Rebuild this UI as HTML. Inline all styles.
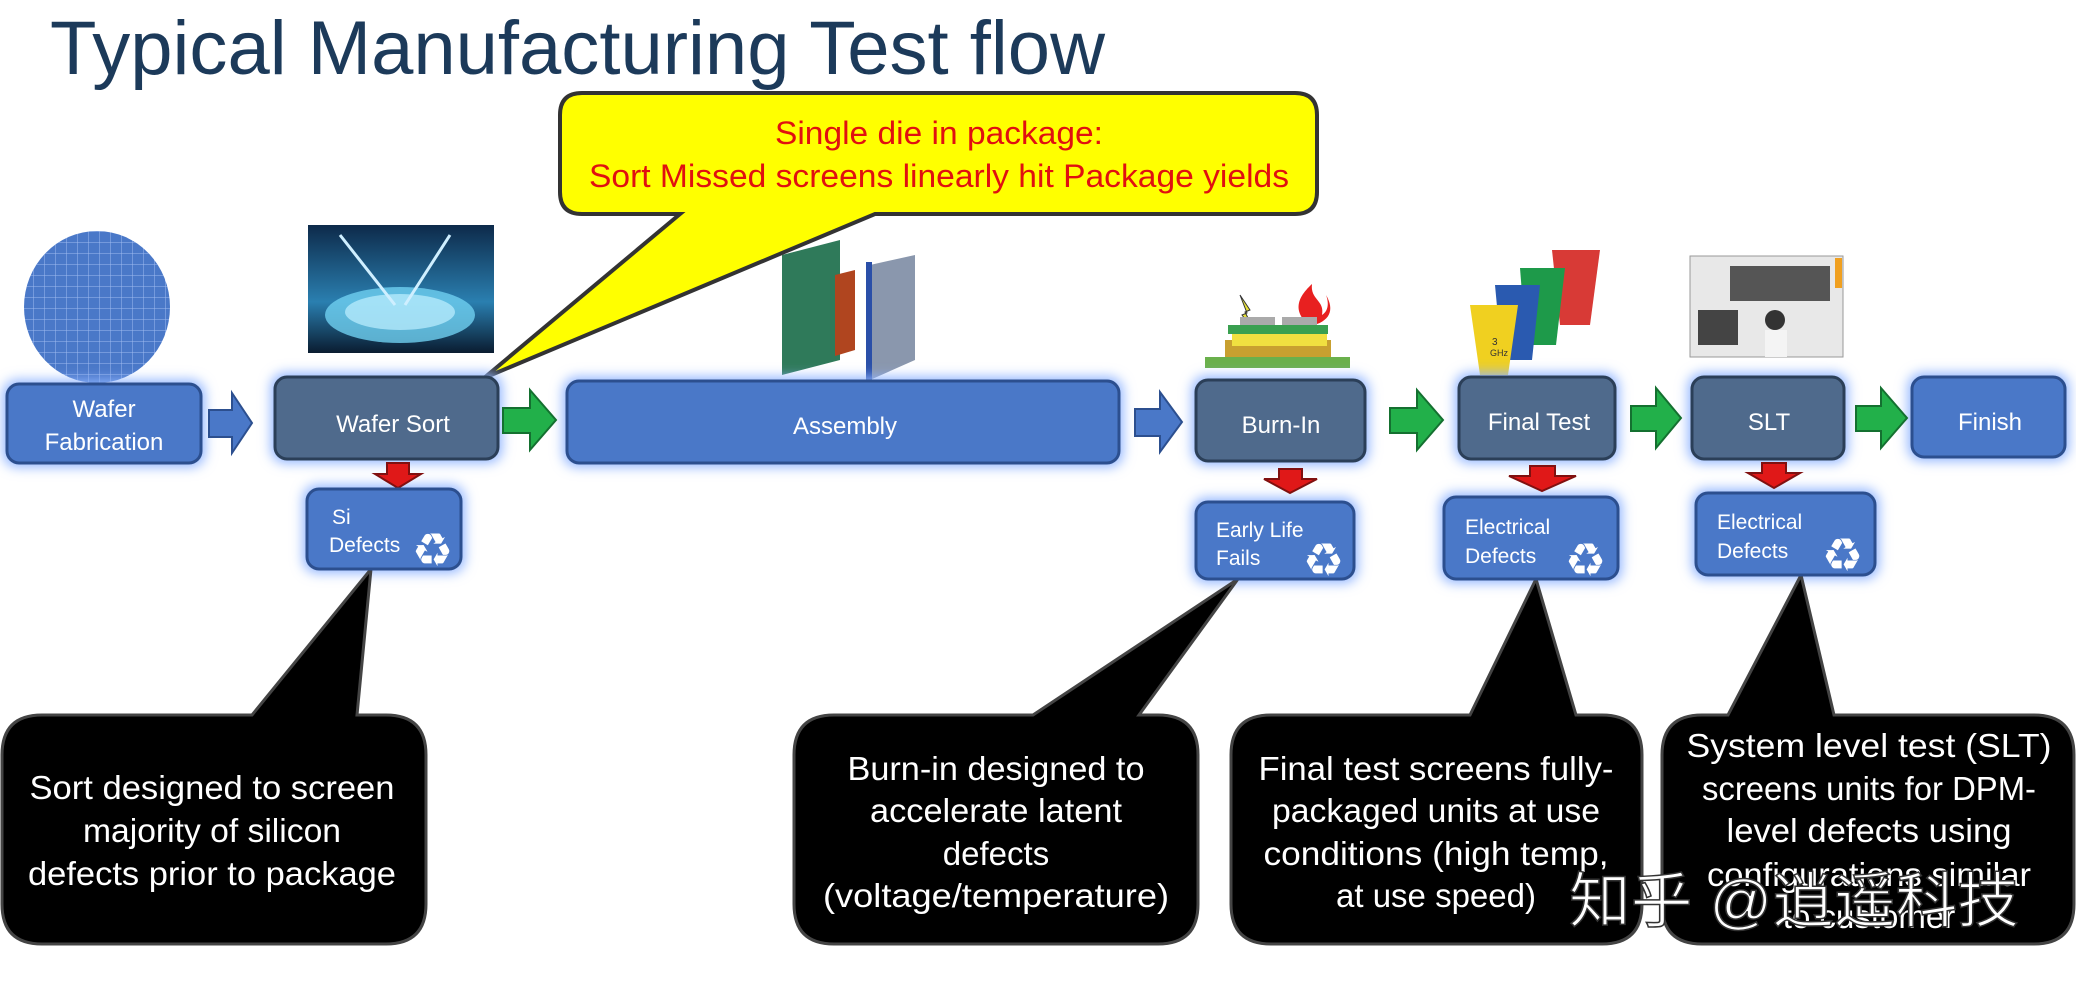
<!DOCTYPE html>
<html><head><meta charset="utf-8"><style>
html,body{margin:0;padding:0;background:#fff;}
svg{display:block;}
</style></head><body>
<svg width="2076" height="989" viewBox="0 0 2076 989" xmlns="http://www.w3.org/2000/svg" font-family="'Liberation Sans', sans-serif">
<defs>
<filter id="glow" x="-20%" y="-30%" width="140%" height="160%"><feGaussianBlur stdDeviation="6"/></filter>
<linearGradient id="photo" x1="0" y1="0" x2="0" y2="1"><stop offset="0" stop-color="#0d2a4a"/><stop offset="0.6" stop-color="#2a7fb0"/><stop offset="1" stop-color="#0a1c30"/></linearGradient>
<pattern id="grid" width="11" height="11" patternUnits="userSpaceOnUse"><rect width="11" height="11" fill="#4a78c8"/><path d="M0 0H11M0 0V11" stroke="#9fbaf0" stroke-width="1"/></pattern>
</defs>

<text x="50" y="74" font-size="76" fill="#1c3a5a" textLength="1055" lengthAdjust="spacingAndGlyphs">Typical Manufacturing Test flow</text>

<ellipse cx="97" cy="307" rx="73" ry="76" fill="url(#grid)"/>
<rect x="308" y="225" width="186" height="128" fill="url(#photo)"/>
<ellipse cx="400" cy="315" rx="75" ry="28" fill="#6fd0f0" opacity="0.8"/>
<ellipse cx="400" cy="312" rx="55" ry="18" fill="#bff0ff" opacity="0.7"/>
<line x1="340" y1="235" x2="395" y2="305" stroke="#cfefff" stroke-width="3"/>
<line x1="450" y1="235" x2="405" y2="305" stroke="#cfefff" stroke-width="3"/>
<polygon points="782,255 840,240 840,360 782,375" fill="#2f7a5a"/>
<polygon points="835,275 855,270 855,350 835,356" fill="#b0451f"/>
<polygon points="870,265 915,255 915,360 870,380" fill="#8a97ad"/>
<rect x="866" y="262" width="6" height="120" fill="#2a4fa8"/>
<polygon points="1240,295 1250,310 1245,312 1255,332 1242,315 1247,313" fill="#e8e23a" stroke="#333" stroke-width="1"/>
<path d="M1310 326 C1290 310 1300 295 1312 284 C1310 300 1325 300 1322 315 C1330 310 1328 300 1326 295 C1335 310 1330 322 1310 326Z" fill="#e82020"/>
<rect x="1205" y="357" width="145" height="11" fill="#6ab04c"/>
<rect x="1225" y="340" width="106" height="17" fill="#c8a030"/>
<rect x="1232" y="334" width="95" height="12" fill="#f0e040"/>
<rect x="1228" y="325" width="100" height="9" fill="#3aa050"/>
<rect x="1240" y="317" width="35" height="8" fill="#aaa"/><rect x="1282" y="317" width="35" height="8" fill="#aaa"/>
<polygon points="1552,250 1600,250 1590,325 1560,325" fill="#d83a36"/>
<polygon points="1520,268 1565,268 1556,345 1526,345" fill="#1e9a4a"/>
<polygon points="1495,285 1540,285 1532,360 1502,360" fill="#2a5ab0"/>
<polygon points="1470,305 1518,305 1508,375 1480,375" fill="#f0d020"/>
<text x="1492" y="345" font-size="10" fill="#333">3</text><text x="1490" y="356" font-size="9" fill="#333">GHz</text>
<rect x="1690" y="256" width="153" height="101" fill="#e8e8e8" stroke="#999"/>
<rect x="1730" y="266" width="100" height="35" fill="#555"/>
<rect x="1698" y="310" width="40" height="35" fill="#444"/>
<circle cx="1775" cy="320" r="10" fill="#333"/><rect x="1765" y="330" width="22" height="27" fill="#f4f4f4"/>
<rect x="1835" y="258" width="7" height="30" fill="#f0a020"/>

<path d="M582 93 H1295 Q1317 93 1317 115 V192 Q1317 214 1295 214 H875 L484 378 L680 214 H582 Q560 214 560 192 V115 Q560 93 582 93 Z" fill="#ffff00" stroke="#333" stroke-width="4"/>
<text x="939" y="144" font-size="32" fill="#e01010" text-anchor="middle" textLength="328" lengthAdjust="spacingAndGlyphs">Single die in package:</text>
<text x="939" y="187" font-size="32" fill="#e01010" text-anchor="middle" textLength="700" lengthAdjust="spacingAndGlyphs">Sort Missed screens linearly hit Package yields</text>

<g filter="url(#glow)" fill="#8fb4ff">
<rect x="3" y="380" width="202" height="87" rx="14"/>
<rect x="271" y="373" width="231" height="90" rx="14"/>
<rect x="563" y="377" width="560" height="90" rx="14"/>
<rect x="1192" y="376" width="177" height="89" rx="14"/>
<rect x="1455" y="373" width="164" height="90" rx="14"/>
<rect x="1688" y="373" width="160" height="90" rx="14"/>
<rect x="1908" y="373" width="161" height="88" rx="14"/>
<rect x="303" y="485" width="162" height="88" rx="14"/>
<rect x="1192" y="498" width="166" height="85" rx="14"/>
<rect x="1440" y="493" width="182" height="90" rx="14"/>
<rect x="1692" y="489" width="187" height="90" rx="14"/>
</g>

<g stroke-width="3">
<rect x="7" y="384" width="194" height="79" rx="12" fill="#4a78c8" stroke="#2c4f8f"/>
<rect x="275" y="377" width="223" height="82" rx="12" fill="#4f6a8c" stroke="#2b3f58"/>
<rect x="567" y="381" width="552" height="82" rx="12" fill="#4a78c8" stroke="#2c4f8f"/>
<rect x="1196" y="380" width="169" height="81" rx="12" fill="#4f6a8c" stroke="#2b3f58"/>
<rect x="1459" y="377" width="156" height="82" rx="12" fill="#4f6a8c" stroke="#2b3f58"/>
<rect x="1692" y="377" width="152" height="82" rx="12" fill="#4f6a8c" stroke="#2b3f58"/>
<rect x="1912" y="377" width="153" height="80" rx="12" fill="#4a78c8" stroke="#2c4f8f"/>
</g>
<g fill="#fff" font-size="24" text-anchor="middle">
<text x="104" y="417">Wafer</text><text x="104" y="450">Fabrication</text>
<text x="393" y="432">Wafer Sort</text>
<text x="845" y="434">Assembly</text>
<text x="1281" y="433">Burn-In</text>
<text x="1539" y="430">Final Test</text>
<text x="1769" y="430">SLT</text>
<text x="1990" y="430">Finish</text>
</g>

<g stroke-width="2">
<path d="M209 410 H232 V393 L252 423 L232 453 V437 H209 Z" fill="#4a78c8" stroke="#2c4f8f"/>
<path d="M1135 409 H1160 V392 L1182 422 L1160 452 V436 H1135 Z" fill="#4a78c8" stroke="#2c4f8f"/>
<path d="M503 408 H530 V390 L556 420 L530 450 V433 H503 Z" fill="#22b04a" stroke="#147030"/>
<path d="M1390 408 H1417 V390 L1443 420 L1417 450 V433 H1390 Z" fill="#22b04a" stroke="#147030"/>
<path d="M1631 406 H1656 V388 L1681 418 L1656 448 V431 H1631 Z" fill="#22b04a" stroke="#147030"/>
<path d="M1856 406 H1881 V388 L1907 418 L1881 448 V431 H1856 Z" fill="#22b04a" stroke="#147030"/>
<path d="M387 463 H409 V474 H421 L398 488 L375 474 H387 Z" fill="#e01818" stroke="#801010"/>
<path d="M1279 469 H1302 V479 H1317 L1290 493 L1264 479 H1279 Z" fill="#e01818" stroke="#801010"/>
<path d="M1530 466 H1555 V476 H1576 L1542 491 L1509 476 H1530 Z" fill="#e01818" stroke="#801010"/>
<path d="M1762 463 H1786 V473 H1800 L1774 488 L1748 473 H1762 Z" fill="#e01818" stroke="#801010"/>
</g>

<g fill="#000" stroke="#444" stroke-width="3">
<path d="M42 715 H252 L371 569 L357 715 H386 Q426 715 426 755 V904 Q426 944 386 944 H42 Q2 944 2 904 V755 Q2 715 42 715 Z"/>
<path d="M834 715 H1033 L1238 579 L1139 715 H1158 Q1198 715 1198 755 V904 Q1198 944 1158 944 H834 Q794 944 794 904 V755 Q794 715 834 715 Z"/>
<path d="M1271 715 H1470 L1536 579 L1576 715 H1602 Q1642 715 1642 755 V904 Q1642 944 1602 944 H1271 Q1231 944 1231 904 V755 Q1231 715 1271 715 Z"/>
<path d="M1702 715 H1728 L1801 575 L1834 715 H2034 Q2074 715 2074 755 V904 Q2074 944 2034 944 H1702 Q1662 944 1662 904 V755 Q1662 715 1702 715 Z"/>
</g>

<g stroke-width="3" fill="#4a78c8" stroke="#2c4f8f">
<rect x="307" y="489" width="154" height="80" rx="12"/>
<rect x="1196" y="502" width="158" height="77" rx="12"/>
<rect x="1444" y="497" width="174" height="82" rx="12"/>
<rect x="1696" y="493" width="179" height="82" rx="12"/>
</g>
<g fill="#fff" font-size="21">
<text x="332" y="524">Si</text><text x="329" y="552">Defects</text>
<text x="1216" y="537">Early Life</text><text x="1216" y="565">Fails</text>
<text x="1465" y="534">Electrical</text><text x="1465" y="563">Defects</text>
<text x="1717" y="529">Electrical</text><text x="1717" y="558">Defects</text>
</g>
<g fill="#fff" font-size="46" font-family="'DejaVu Sans', sans-serif">
<text x="412" y="566">♻</text><text x="1303" y="576">♻</text><text x="1565" y="576">♻</text><text x="1822" y="571">♻</text>
</g>

<g fill="#fff" font-size="33" text-anchor="middle">
<text x="212" y="799" textLength="365" lengthAdjust="spacingAndGlyphs">Sort designed to screen</text>
<text x="212" y="842" textLength="258" lengthAdjust="spacingAndGlyphs">majority of silicon</text>
<text x="212" y="885" textLength="368" lengthAdjust="spacingAndGlyphs">defects prior to package</text>
<text x="996" y="780" textLength="297" lengthAdjust="spacingAndGlyphs">Burn-in designed to</text>
<text x="996" y="822" textLength="252" lengthAdjust="spacingAndGlyphs">accelerate latent</text>
<text x="996" y="865">defects</text>
<text x="996" y="907" textLength="346" lengthAdjust="spacingAndGlyphs">(voltage/temperature)</text>
<text x="1436" y="780" textLength="355" lengthAdjust="spacingAndGlyphs">Final test screens fully-</text>
<text x="1436" y="822" textLength="328" lengthAdjust="spacingAndGlyphs">packaged units at use</text>
<text x="1436" y="865" textLength="345" lengthAdjust="spacingAndGlyphs">conditions (high temp,</text>
<text x="1436" y="907">at use speed)</text>
<text x="1869" y="757" textLength="365" lengthAdjust="spacingAndGlyphs">System level test (SLT)</text>
<text x="1869" y="800" textLength="334" lengthAdjust="spacingAndGlyphs">screens units for DPM-</text>
<text x="1869" y="842" textLength="285" lengthAdjust="spacingAndGlyphs">level defects using</text>
<text x="1869" y="886" textLength="324" lengthAdjust="spacingAndGlyphs">configurations similar</text>
<text x="1869" y="928">to customer</text>
</g>

<text x="1569" y="922" font-size="60" fill="#fff" stroke="#333" stroke-width="1.5" font-family="'Liberation Sans','Noto Sans CJK SC',sans-serif" textLength="450" lengthAdjust="spacingAndGlyphs">知乎 @逍遥科技</text>
</svg>
</body></html>
